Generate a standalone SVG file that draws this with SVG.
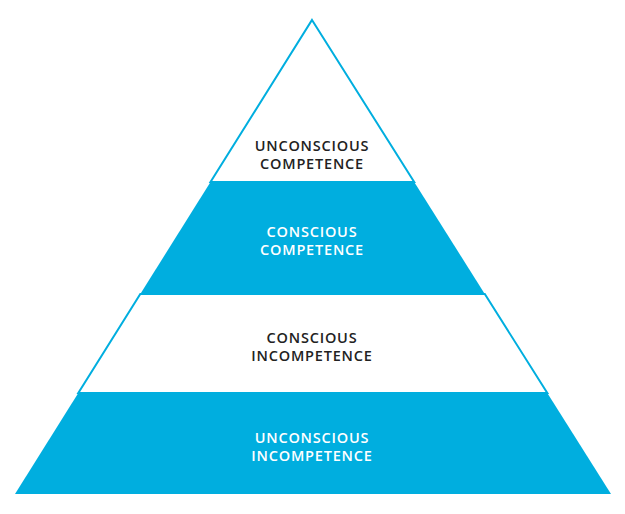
<svg xmlns="http://www.w3.org/2000/svg" width="625" height="514" viewBox="0 0 625 514">
<style>
.band{fill:#00AEDF}
.t{font-family:"Open Sans","Liberation Sans",Arial,sans-serif;font-weight:600;font-size:14.5px;letter-spacing:0.8px;text-anchor:middle}
.d{fill:#222222}.w{fill:#ffffff}
</style>
<rect width="625" height="514" fill="#ffffff"/>
<g id="level-uc-competence">
<polygon points="312,20 414.2,182 210.5,182" fill="#ffffff" stroke="#00AEDF" stroke-width="2"/>
<text class="t d" x="312" y="151">UNCONSCIOUS</text>
<text class="t d" x="312" y="169">COMPETENCE</text>
</g>
<g id="level-c-competence">
<polygon class="band" points="210.5,182 414.2,182 484.8,294 140.3,294"/>
<text class="t w" x="312" y="237">CONSCIOUS</text>
<text class="t w" x="312" y="255">COMPETENCE</text>
</g>
<g id="level-c-incompetence">
<polygon points="140.3,294 484.8,294 547.3,393 78.3,393" fill="#ffffff" stroke="#00AEDF" stroke-width="2"/>
<text class="t d" x="312" y="343">CONSCIOUS</text>
<text class="t d" x="312" y="361">INCOMPETENCE</text>
</g>
<g id="level-uc-incompetence">
<polygon class="band" points="78.3,393 547.3,393 611,494 15,494"/>
<text class="t w" x="312" y="443">UNCONSCIOUS</text>
<text class="t w" x="312" y="461">INCOMPETENCE</text>
</g>
<g id="connectors"></g>
</svg>
